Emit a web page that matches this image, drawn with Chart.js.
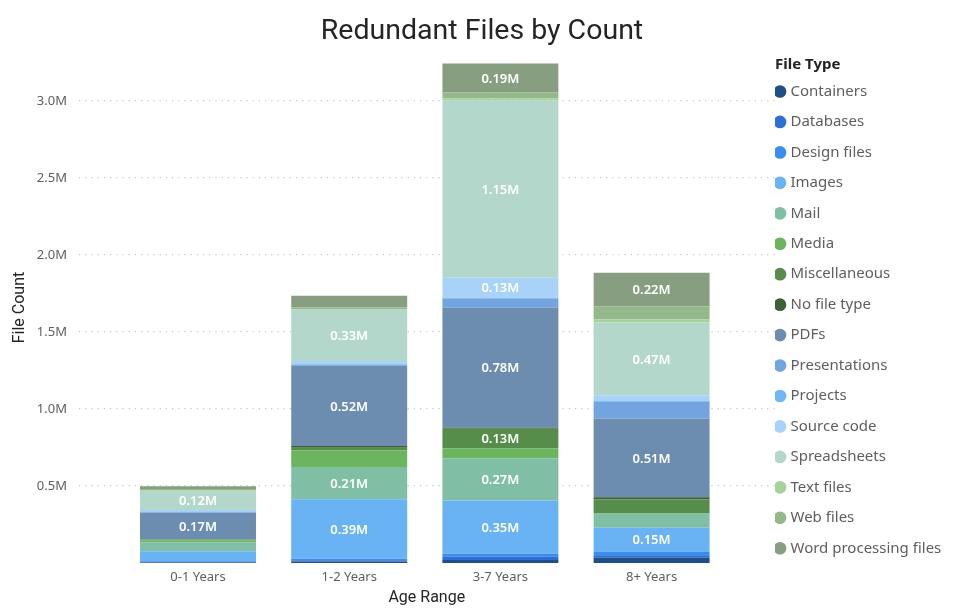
<!DOCTYPE html>
<html>
<head>
<meta charset="utf-8">
<script src="https://cdn.jsdelivr.net/npm/chart.js@4"></script>
<style>
html, body { margin: 0; padding: 0; background: #ffffff; }
#wrap { width: 964px; height: 611px; position: relative; }
</style>
</head>
<body>
<div id="wrap"><canvas id="c"></canvas></div>
<script>
// ---------- data ----------
const categories = ['0-1 Years', '1-2 Years', '3-7 Years', '8+ Years'];
const fileTypes = ['Containers', 'Databases', 'Design files', 'Images', 'Mail', 'Media',
  'Miscellaneous', 'No file type', 'PDFs', 'Presentations', 'Projects', 'Source code',
  'Spreadsheets', 'Text files', 'Web files', 'Word processing files'];

const containers      = [3000, 10000, 20000, 35000];
const databases       = [3000, 8000, 20000, 10000];
const designFiles     = [5000, 10000, 20000, 30000];
const images          = [65000, 386000, 346000, 154000];
const mail            = [58000, 210000, 274000, 91000];
const media           = [13000, 108000, 65000, 5000];
const miscellaneous   = [5000, 17000, 126000, 87000];
const noFileType      = [2000, 10000, 7000, 15000];
const pdfs            = [170000, 522000, 780000, 512000];
const presentations   = [5000, 5000, 60000, 108000];
const projects        = [5000, 5000, 5000, 5000];
const sourceCode      = [10000, 20000, 130000, 37000];
const spreadsheets    = [123000, 333000, 1150000, 472000];
const textFiles       = [6000, 5000, 15000, 20000];
const webFiles        = [7000, 10000, 37000, 87000];
const wordProcessing  = [18000, 76000, 188000, 216000];

const yTickValues = [500000, 1000000, 1500000, 2000000, 2500000, 3000000];

const seriesValues = [containers, databases, designFiles, images, mail, media,
  miscellaneous, noFileType, pdfs, presentations, projects, sourceCode,
  spreadsheets, textFiles, webFiles, wordProcessing];

const colors = ['#1F4E89', '#2D6FD4', '#3B8DED', '#69B2F3', '#80BFA5', '#6BB55E',
  '#578D4B', '#3B6234', '#6D8DB0', '#72A5E0', '#72B6F6', '#A8D2F7',
  '#B3D8CB', '#A5D39A', '#93B98A', '#879F80'];

// ---------- layout helpers ----------
const W = 964;
const LEGEND_FONT = 15;
const LEGEND_BOX = 6;
const LEGEND_PAD = 2;
const LEGEND_LEFT = 775;
const PLOT_LEFT = 78.6;
const FIRST_CENTER = 198;
const STEP = 151.2;
const mctx = document.createElement('canvas').getContext('2d');
mctx.font = LEGEND_FONT + 'px "Noto Sans"';
const tw = Math.max(...fileTypes.map(t => mctx.measureText(t).width));
const legendWidth = LEGEND_PAD + LEGEND_BOX + LEGEND_FONT / 2 + tw + 10;
const side = Math.max(0, W - LEGEND_LEFT - legendWidth);
const xMin = (PLOT_LEFT - FIRST_CENTER) / STEP;
const xMax = (LEGEND_LEFT - FIRST_CENTER) / STEP;

const datasets = fileTypes.map((name, k) => ({
  label: name,
  data: seriesValues[k].map((v, i) => ({ x: i, y: v })),
  backgroundColor: colors[k],
  borderWidth: 0,
  barPercentage: 0.767,
  categoryPercentage: 1
}));

const barLabels = {
  id: 'barLabels',
  afterDatasetsDraw(chart) {
    const ctx = chart.ctx;
    ctx.save();
    ctx.font = '600 13px "Noto Sans"';
    ctx.fillStyle = '#ffffff';
    ctx.textAlign = 'center';
    ctx.textBaseline = 'middle';
    chart.data.datasets.forEach((ds, di) => {
      const meta = chart.getDatasetMeta(di);
      meta.data.forEach((bar, i) => {
        const v = ds.data[i].y;
        if (v < 115000) return;
        const p = bar.getProps(['x', 'y', 'base'], true);
        ctx.fillText((v / 1e6).toFixed(2) + 'M', p.x, (p.y + p.base) / 2 + 1);
      });
    });
    ctx.restore();
  }
};

Chart.defaults.font.family = '"Noto Sans", "Open Sans", sans-serif';

new Chart(document.getElementById('c'), {
  type: 'bar',
  data: { datasets },
  plugins: [barLabels],
  options: {
    responsive: true,
    maintainAspectRatio: false,
    animation: false,
    layout: { padding: { left: side, right: side, top: 0, bottom: 0 } },
    plugins: {
      title: {
        display: true,
        text: 'Redundant Files by Count',
        color: '#252423',
        font: { family: 'Roboto', size: 28.5, weight: 'normal', lineHeight: 1.2 },
        padding: { top: 14.9, bottom: 2.9 }
      },
      legend: {
        display: true,
        position: 'right',
        align: 'start',
        title: {
          display: true,
          text: 'File Type',
          position: 'start',
          color: '#252423',
          font: { size: 15, weight: 'bold', lineHeight: 1.2 },
          padding: { top: 57.5, bottom: 6.5 }
        },
        labels: {
          usePointStyle: true,
          pointStyle: 'circle',
          boxWidth: LEGEND_BOX,
          boxHeight: 9,
          padding: LEGEND_PAD,
          color: '#605E5C',
          font: { size: LEGEND_FONT, lineHeight: '28.45px' },
          generateLabels(chart) {
            const items = Chart.defaults.plugins.legend.labels.generateLabels(chart);
            items.forEach(it => { it.text = [it.text]; it.lineWidth = 0; });
            return items;
          }
        }
      },
      tooltip: { enabled: false }
    },
    scales: {
      x: {
        type: 'linear',
        stacked: true,
        offset: false,
        min: xMin,
        max: xMax,
        grid: { display: false, offset: false },
        border: { display: false },
        afterBuildTicks(scale) { scale.ticks = categories.map((c, i) => ({ value: i })); },
        afterFit(scale) { scale.height = 48; },
        ticks: {
          autoSkip: false,
          maxRotation: 0,
          color: '#605E5C',
          font: { size: 13 },
          padding: -2,
          callback: (v) => categories[v]
        },
        title: {
          display: true,
          text: 'Age Range',
          color: '#252423',
          font: { family: 'Roboto', size: 16, lineHeight: 1.2 },
          padding: { top: 0, bottom: 3.4 }
        }
      },
      y: {
        stacked: true,
        min: 0,
        max: (563 - 52) / 154 * 1e6,
        afterBuildTicks(scale) { scale.ticks = yTickValues.map(v => ({ value: v })); },
        afterFit(scale) { scale.width = PLOT_LEFT - side; },
        grid: { color: '#C4C4C4', lineWidth: 1.2, drawTicks: false },
        border: { display: false, dash: [1.2, 5] },
        ticks: {
          color: '#605E5C',
          font: { size: 13 },
          padding: 11.6,
          callback: (v) => (v / 1e6).toFixed(1) + 'M'
        },
        title: {
          display: true,
          text: 'File Count',
          color: '#252423',
          font: { family: 'Roboto', size: 16, lineHeight: 1.2 },
          padding: { top: 10.4 - side, bottom: 0 }
        }
      }
    }
  }
});
</script>
</body>
</html>
